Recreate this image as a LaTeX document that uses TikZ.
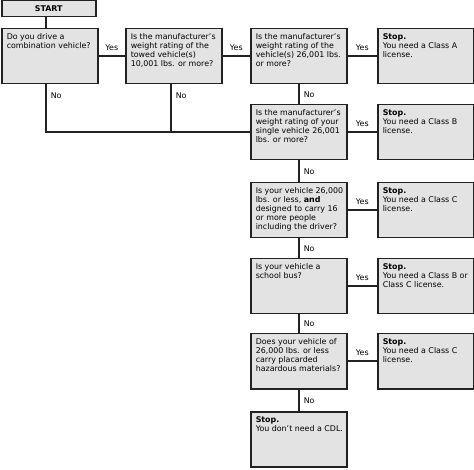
\documentclass[tikz,border=0pt]{standalone}
\usepackage{fontspec}
\setmainfont{DejaVu Sans}
\definecolor{boxfill}{HTML}{E3E3E3}
\definecolor{boxline}{HTML}{222222}
\newcommand{\qtext}[1]{\parbox[c][45pt][t]{86pt}{\begin{tabular}[t]{@{}l@{}}#1\end{tabular}}}

\begin{document}
\begin{tikzpicture}[x=1pt,y=-1pt,font=\fontsize{7.9}{8.9}\selectfont,
    qbox/.style={draw=boxline,fill=boxfill,line width=1.5pt,inner xsep=5pt,inner ysep=5pt,anchor=north west},
    conn/.style={draw=boxline,line width=1.5pt},
    yeslbl/.style={midway,above=1.5pt},
    nolbl/.style={right=1pt}]
    \useasboundingbox (0,0) rectangle (474,470);

    \node[qbox,inner sep=0pt,minimum width=94pt,minimum height=16pt,font=\fontsize{7.9}{8.9}\selectfont\bfseries] (start) at (1,0) {START};

    \node[qbox] (q1) at (1,28) {\qtext{Do you drive a\\combination vehicle?}};
    \node[qbox] (q2) at (125,28) {\qtext{Is the manufacturer’s\\weight rating of the\\towed vehicle(s)\\10,001 lbs. or more?}};
    \node[qbox] (q3) at (250,28) {\qtext{Is the manufacturer’s\\weight rating of the\\vehicle(s) 26,001 lbs.\\or more?}};
    \node[qbox] (sA) at (377,28) {\qtext{\textbf{Stop.}\\You need a Class A\\license.}};

    \node[qbox] (q4) at (250,104) {\qtext{Is the manufacturer’s\\weight rating of your\\single vehicle 26,001\\lbs. or more?}};
    \node[qbox] (sB) at (377,104) {\qtext{\textbf{Stop.}\\You need a Class B\\license.}};

    \node[qbox] (q5) at (250,182) {\qtext{Is your vehicle 26,000\\lbs. or less, \textbf{and}\\designed to carry 16\\or more people\\including the driver?}};
    \node[qbox] (sC) at (377,182) {\qtext{\textbf{Stop.}\\You need a Class C\\license.}};

    \node[qbox] (q6) at (250,258) {\qtext{Is your vehicle a\\school bus?}};
    \node[qbox] (sBC) at (377,258) {\qtext{\textbf{Stop.}\\You need a Class B or\\Class C license.}};

    \node[qbox] (q7) at (250,333) {\qtext{Does your vehicle of\\26,000 lbs. or less\\carry placarded\\hazardous materials?}};
    \node[qbox] (sC2) at (377,333) {\qtext{\textbf{Stop.}\\You need a Class C\\license.}};

    \node[qbox] (sN) at (250,411) {\qtext{\textbf{Stop.}\\You don’t need a CDL.}};

    \coordinate (n1) at ([xshift=-4pt]q1.south);
    \coordinate (n2) at ([xshift=-3pt]q2.south);

    \draw[conn] ([xshift=-3pt]start.south) -- ([xshift=-4pt]q1.north);
    \draw[conn] (q1) -- node[yeslbl] {Yes} (q2);
    \draw[conn] (q2) -- node[yeslbl] {Yes} (q3);
    \draw[conn] (q3) -- node[yeslbl] {Yes} (sA);
    \draw[conn] (n1) -- node[nolbl,pos=0.23] {No} (n1 |- q4.west) -- (q4.west);
    \draw[conn] (n2) -- node[nolbl,pos=0.23] {No} (n2 |- q4.west);
    \draw[conn] (q3) -- node[nolbl,midway] {No} (q4);
    \draw[conn] (q4) -- node[yeslbl] {Yes} (sB);
    \draw[conn] (q4) -- node[nolbl,midway] {No} (q5);
    \draw[conn] (q5) -- node[yeslbl] {Yes} (sC);
    \draw[conn] (q5) -- node[nolbl,midway] {No} (q6);
    \draw[conn] (q6) -- node[yeslbl] {Yes} (sBC);
    \draw[conn] (q6) -- node[nolbl,midway] {No} (q7);
    \draw[conn] (q7) -- node[yeslbl] {Yes} (sC2);
    \draw[conn] (q7) -- node[nolbl,midway] {No} (sN);
\end{tikzpicture}
\end{document}
